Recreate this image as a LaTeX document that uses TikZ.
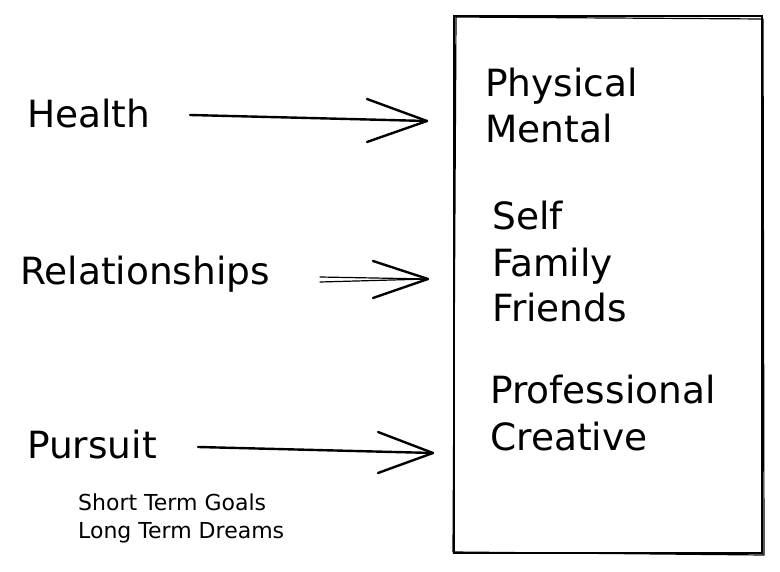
\documentclass[tikz,border=0pt]{standalone}
\usepackage{fontspec}
\setmainfont{DejaVu Sans}
\begin{document}
\begin{tikzpicture}[x=1pt,y=-1pt,
  big/.style={font=\fontsize{37.5}{46}\selectfont, anchor=base west, inner sep=0pt},
  small/.style={font=\fontsize{22}{28}\selectfont, anchor=base west, inner sep=0pt},
  stroke/.style={line width=2.4pt, line cap=round, line join=round},
  sketch/.style={line width=1.2pt, line cap=round, line join=round}]
\fill[white] (0,0) rectangle (780,572);
\useasboundingbox (0,0) rectangle (780,572);

% left labels
\node[big] (health) at (27,128) {Health};
\node[big] (rel) at (20,285) {Relationships};
\node[big] (pursuit) at (27,458) {Pursuit};
\node[small] (goals) at (78,510) {Short Term Goals};
\node[small] (dreams) at (78,538) {Long Term Dreams};

% box
\node[draw, line width=1.9pt, minimum width=308pt, minimum height=537pt, inner sep=0pt] (box) at (608,284.5) {};
\coordinate (b1) at (456,17);
\coordinate (b2) at (763,19);
\coordinate (b3) at (764,555);
\coordinate (b4) at (453,552);
\draw[sketch] (b1) -- (b2) -- (b3) -- (b4) -- cycle;

% box texts
\node[big] (phys) at (485,97) {Physical};
\node[big] (mental) at (485,143) {Mental};
\node[big] (self) at (492,230) {Self};
\node[big] (family) at (492,277) {Family};
\node[big] (friends) at (492,322) {Friends};
\node[big] (prof) at (490,403) {Professional};
\node[big] (creative) at (490,450) {Creative};

% arrow 1
\coordinate (hs) at (190,115);
\coordinate (ht) at (427,121);
\coordinate (hb1) at (367,99);
\coordinate (hb2) at (367,142);
\draw[stroke] (hs) -- (ht);
\draw[stroke] (hb1) -- (ht) -- (hb2);

% arrow 2 (double stroke)
\coordinate (rs1) at (320,277);
\coordinate (rs2) at (320,282);
\coordinate (rt) at (428,279);
\coordinate (rb1) at (373,261);
\coordinate (rb2) at (373,298);
\draw[sketch] (rs1) -- (rt);
\draw[sketch] (rs2) -- (rt);
\draw[stroke] (rb1) -- (rt) -- (rb2);

% arrow 3
\coordinate (ps) at (198,447);
\coordinate (pt) at (433,453);
\coordinate (pb1) at (378,432);
\coordinate (pb2) at (378,473);
\draw[stroke] (ps) -- (pt);
\draw[stroke] (pb1) -- (pt) -- (pb2);
\end{tikzpicture}
\end{document}
